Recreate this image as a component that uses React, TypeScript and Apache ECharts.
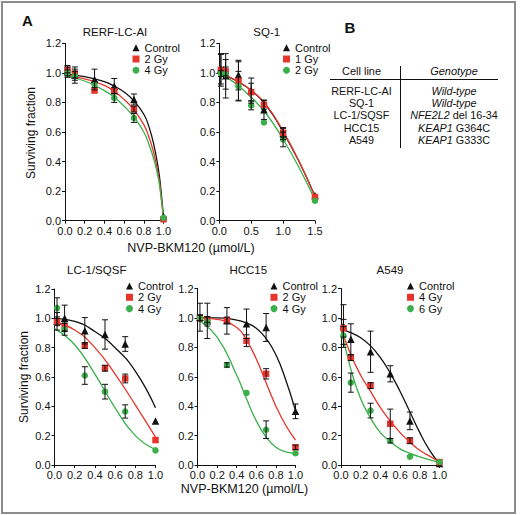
import React, { useEffect, useRef } from "react";
import * as echarts from "echarts";

const FONT = '"Liberation Sans", Arial, Helvetica, sans-serif';
const BLACK = "#111111";
const RED = "#e8352b";
const GREEN = "#3aaf4a";

// ---------- Panel A: RERF-LC-AI ----------
const RERF_DOSE = [0.025, 0.1, 0.3, 0.5, 0.7, 1.0];
const RERF_CTRL = [1.01, 0.985, 0.955, 0.91, 0.82, 0.03];
const RERF_CTRL_ERR = [0.04, 0.055, 0.07, 0.052, 0.037, 0.0];
const RERF_2GY = [1.02, 0.995, 0.88, 0.88, 0.755, 0.01];
const RERF_2GY_ERR = [0.02, 0.03, 0.0, 0.02, 0.02, 0.0];
const RERF_4GY = [1.0, 0.98, 0.92, 0.83, 0.695, 0.02];
const RERF_4GY_ERR = [0.02, 0.03, 0.02, 0.03, 0.03, 0.0];
const RERF_FIT_X = [0, 0.2, 0.4, 0.5, 0.6, 0.7, 0.8, 0.85, 0.9, 0.95, 0.975, 1.0];
const RERF_FIT_CTRL = [0.99, 0.975, 0.94, 0.91, 0.87, 0.81, 0.72, 0.64, 0.52, 0.34, 0.2, 0.02];
const RERF_FIT_2GY = [0.985, 0.96, 0.915, 0.875, 0.82, 0.75, 0.65, 0.57, 0.46, 0.3, 0.17, 0.02];
const RERF_FIT_4GY = [0.98, 0.945, 0.88, 0.835, 0.775, 0.7, 0.6, 0.52, 0.42, 0.28, 0.16, 0.02];

// ---------- SQ-1 ----------
const SQ1_DOSE = [0.025, 0.1, 0.3, 0.5, 0.7, 1.0, 1.5];
const SQ1_CTRL = [1.025, 0.98, 0.985, 0.88, 0.75, 0.59, 0.17];
const SQ1_CTRL_ERR = [0.1, 0.15, 0.1, 0.085, 0.065, 0.04, 0.0];
const SQ1_1GY = [1.02, 1.01, 0.945, 0.87, 0.785, 0.595, 0.16];
const SQ1_1GY_ERR = [0.11, 0.03, 0.13, 0.06, 0.03, 0.03, 0.0];
const SQ1_2GY = [0.995, 0.99, 0.91, 0.78, 0.665, 0.55, 0.135];
const SQ1_2GY_ERR = [0.02, 0.1, 0.1, 0.03, 0.0, 0.05, 0.0];
const SQ1_FIT_X = [0, 0.25, 0.5, 0.75, 1.0, 1.25, 1.5];
const SQ1_FIT_CTRL = [1.0, 0.95, 0.88, 0.77, 0.6, 0.4, 0.165];
const SQ1_FIT_1GY = [1.0, 0.952, 0.883, 0.775, 0.605, 0.402, 0.16];
const SQ1_FIT_2GY = [1.0, 0.93, 0.835, 0.715, 0.55, 0.36, 0.14];

// ---------- LC-1/SQSF ----------
const LC1_DOSE = [0.025, 0.1, 0.3, 0.5, 0.7, 1.0];
const LC1_CTRL = [0.98, 1.0, 0.915, 0.89, 0.825, 0.3];
const LC1_CTRL_ERR = [0.06, 0.09, 0.09, 0.1, 0.05, 0.0];
const LC1_2GY = [0.98, 0.945, 0.815, 0.66, 0.59, 0.17];
const LC1_2GY_ERR = [0.03, 0.03, 0.02, 0.02, 0.03, 0.0];
const LC1_4GY = [1.07, 0.925, 0.61, 0.5, 0.365, 0.1];
const LC1_4GY_ERR = [0.07, 0.04, 0.06, 0.05, 0.045, 0.0];
const LC1_FIT_X = [0, 0.2, 0.4, 0.6, 0.8, 1.0];
const LC1_FIT_CTRL = [1.0, 0.98, 0.91, 0.8, 0.64, 0.39];
const LC1_FIT_2GY = [0.975, 0.92, 0.8, 0.62, 0.41, 0.19];
const LC1_FIT_4GY = [0.93, 0.82, 0.62, 0.39, 0.2, 0.105];

// ---------- HCC15 ----------
const HCC_DOSE = [0.025, 0.1, 0.3, 0.5, 0.7, 1.0];
const HCC_CTRL = [1.005, 0.98, 0.98, 0.96, 0.935, 0.365];
const HCC_CTRL_ERR = [0.095, 0.12, 0.09, 0.1, 0.095, 0.05];
const HCC_2GY = [1.0, 0.99, 0.985, 0.845, 0.62, 0.12];
const HCC_2GY_ERR = [0.02, 0.02, 0.02, 0.04, 0.035, 0.015];
const HCC_4GY = [1.0, 0.975, 0.68, 0.49, 0.24, 0.08];
const HCC_4GY_ERR = [0.02, 0.03, 0.015, 0.0, 0.06, 0.0];
const HCC_FIT_X = [0, 0.2, 0.4, 0.5, 0.6, 0.7, 0.8, 0.9, 1.0];
const HCC_FIT_CTRL = [1.0, 1.0, 0.985, 0.965, 0.93, 0.86, 0.75, 0.58, 0.37];
const HCC_FIT_2GY = [1.0, 0.99, 0.935, 0.85, 0.72, 0.56, 0.4, 0.27, 0.17];
const HCC_FIT_4GY = [0.99, 0.87, 0.61, 0.45, 0.3, 0.19, 0.12, 0.09, 0.08];

// ---------- A549 ----------
const A549_DOSE = [0.025, 0.1, 0.3, 0.5, 0.7, 1.0];
const A549_CTRL = [0.945, 0.855, 0.77, 0.62, 0.3, 0.01];
const A549_CTRL_ERR = [0.145, 0.105, 0.14, 0.055, 0.06, 0.0];
const A549_4GY = [0.93, 0.73, 0.54, 0.28, 0.165, 0.02];
const A549_4GY_ERR = [0.06, 0.02, 0.02, 0.1, 0.02, 0.0];
const A549_6GY = [0.88, 0.56, 0.37, 0.165, 0.057, 0.02];
const A549_6GY_ERR = [0.06, 0.065, 0.05, 0.015, 0.0, 0.0];
const A549_FIT_X = [0, 0.1, 0.2, 0.3, 0.4, 0.5, 0.6, 0.7, 0.8, 0.9, 1.0];
const A549_FIT_CTRL = [0.92, 0.9, 0.865, 0.81, 0.73, 0.625, 0.5, 0.36, 0.22, 0.1, 0.01];
const A549_FIT_4GY = [0.93, 0.75, 0.61, 0.5, 0.39, 0.3, 0.22, 0.155, 0.1, 0.06, 0.02];
const A549_FIT_6GY = [0.93, 0.65, 0.45, 0.32, 0.22, 0.16, 0.11, 0.08, 0.055, 0.035, 0.02];

// ---------- Table B ----------
const TABLE_HEADERS = ["Cell line", "Genotype"];
const TABLE_CELL_LINES = ["RERF-LC-AI", "SQ-1", "LC-1/SQSF", "HCC15", "A549"];
const TABLE_GENE = ["", "", "NFE2L2", "KEAP1", "KEAP1"];
const TABLE_MUTATION = ["Wild-type", "Wild-type", " del 16-34", " G364C", " G333C"];

const Y_TICKS = [0, 0.2, 0.4, 0.6, 0.8, 1.0, 1.2];
const X_LABEL = "NVP-BKM120 (\u00b5mol/L)";
const Y_LABEL = "Surviving fraction";

type Group = {
  name: string;
  icon: string;
  color: string;
  size: number;
  values: number[];
  errors: number[];
  fitY: number[];
};
type Panel = {
  title: string;
  titlePos: [number, number];
  grid: { left: number; top: number; width: number; height: number };
  xMax: number;
  xInterval: number;
  dose: number[];
  fitX: number[];
  legendPos: [number, number];
  groups: Group[];
};

const mk = (name: string, icon: string, color: string, values: number[], errors: number[], fitY: number[]): Group => ({
  name,
  icon,
  color,
  size: icon === "triangle" ? 7.5 : 6.5,
  values,
  errors,
  fitY,
});

const PANELS: Panel[] = [
  {
    title: "RERF-LC-AI",
    titlePos: [115, 32],
    grid: { left: 65, top: 43.3, width: 98.5, height: 177.4 },
    xMax: 1,
    xInterval: 0.2,
    dose: RERF_DOSE,
    fitX: RERF_FIT_X,
    legendPos: [132.5, 42.2],
    groups: [
      mk("Control", "triangle", BLACK, RERF_CTRL, RERF_CTRL_ERR, RERF_FIT_CTRL),
      mk("2 Gy", "rect", RED, RERF_2GY, RERF_2GY_ERR, RERF_FIT_2GY),
      mk("4 Gy", "circle", GREEN, RERF_4GY, RERF_4GY_ERR, RERF_FIT_4GY),
    ],
  },
  {
    title: "SQ-1",
    titlePos: [266.7, 32],
    grid: { left: 219.3, top: 43.3, width: 95.7, height: 177.4 },
    xMax: 1.5,
    xInterval: 0.5,
    dose: SQ1_DOSE,
    fitX: SQ1_FIT_X,
    legendPos: [283, 42.2],
    groups: [
      mk("Control", "triangle", BLACK, SQ1_CTRL, SQ1_CTRL_ERR, SQ1_FIT_CTRL),
      mk("1 Gy", "rect", RED, SQ1_1GY, SQ1_1GY_ERR, SQ1_FIT_1GY),
      mk("2 Gy", "circle", GREEN, SQ1_2GY, SQ1_2GY_ERR, SQ1_FIT_2GY),
    ],
  },
  {
    title: "LC-1/SQSF",
    titlePos: [96.7, 270],
    grid: { left: 54.5, top: 289, width: 101, height: 176 },
    xMax: 1,
    xInterval: 0.2,
    dose: LC1_DOSE,
    fitX: LC1_FIT_X,
    legendPos: [126, 280.5],
    groups: [
      mk("Control", "triangle", BLACK, LC1_CTRL, LC1_CTRL_ERR, LC1_FIT_CTRL),
      mk("2 Gy", "rect", RED, LC1_2GY, LC1_2GY_ERR, LC1_FIT_2GY),
      mk("4 Gy", "circle", GREEN, LC1_4GY, LC1_4GY_ERR, LC1_FIT_4GY),
    ],
  },
  {
    title: "HCC15",
    titlePos: [248.3, 270],
    grid: { left: 197.5, top: 288.5, width: 98, height: 176.5 },
    xMax: 1,
    xInterval: 0.2,
    dose: HCC_DOSE,
    fitX: HCC_FIT_X,
    legendPos: [270.5, 280.5],
    groups: [
      mk("Control", "triangle", BLACK, HCC_CTRL, HCC_CTRL_ERR, HCC_FIT_CTRL),
      mk("2 Gy", "rect", RED, HCC_2GY, HCC_2GY_ERR, HCC_FIT_2GY),
      mk("4 Gy", "circle", GREEN, HCC_4GY, HCC_4GY_ERR, HCC_FIT_4GY),
    ],
  },
  {
    title: "A549",
    titlePos: [390, 270],
    grid: { left: 341, top: 288.5, width: 98.5, height: 176.5 },
    xMax: 1,
    xInterval: 0.2,
    dose: A549_DOSE,
    fitX: A549_FIT_X,
    legendPos: [407, 280.5],
    groups: [
      mk("Control", "triangle", BLACK, A549_CTRL, A549_CTRL_ERR, A549_FIT_CTRL),
      mk("4 Gy", "rect", RED, A549_4GY, A549_4GY_ERR, A549_FIT_4GY),
      mk("6 Gy", "circle", GREEN, A549_6GY, A549_6GY_ERR, A549_FIT_6GY),
    ],
  },
];

function textEl(text: string, x: number, y: number, size: number, extra: any = {}) {
  return {
    type: "text",
    x,
    y,
    rotation: extra.rotation || 0,
    silent: true,
    style: {
      text,
      fill: BLACK,
      fontSize: size,
      fontFamily: FONT,
      fontWeight: extra.fontWeight || "normal",
      fontStyle: extra.fontStyle || "normal",
      align: extra.align || "center",
      verticalAlign: "middle",
      textAlign: extra.align || "center",
      textVerticalAlign: "middle",
      rich: extra.rich,
    },
  };
}

function errorRender(params: any, api: any) {
  const x = api.value(0);
  const lo = api.coord([x, api.value(1)]);
  const hi = api.coord([x, api.value(2)]);
  const cap = 3;
  const st = { stroke: BLACK, lineWidth: 1 };
  return {
    type: "group",
    children: [
      { type: "line", shape: { x1: lo[0], y1: lo[1], x2: hi[0], y2: hi[1] }, style: st },
      { type: "line", shape: { x1: lo[0] - cap, y1: lo[1], x2: lo[0] + cap, y2: lo[1] }, style: st },
      { type: "line", shape: { x1: hi[0] - cap, y1: hi[1], x2: hi[0] + cap, y2: hi[1] }, style: st },
    ],
  };
}

function buildOption() {
  const grid: any[] = [];
  const xAxis: any[] = [];
  const yAxis: any[] = [];
  const series: any[] = [];
  const legend: any[] = [];
  const graphic: any[] = [];

  const axisLineCommon = {
    axisLine: { show: true, onZero: false, lineStyle: { color: BLACK, width: 1 } },
    axisTick: { show: true, length: 3, lineStyle: { color: BLACK, width: 1 } },
    splitLine: { show: false },
  };
  const labelCommon = {
    fontSize: 11,
    lineHeight: 10,
    fontFamily: FONT,
    color: BLACK,
    formatter: (v: number) => v.toFixed(1),
  };

  PANELS.forEach((p, i) => {
    grid.push({ ...p.grid, containLabel: false });
    xAxis.push({
      type: "value",
      gridIndex: i,
      min: 0,
      max: p.xMax,
      interval: p.xInterval,
      ...axisLineCommon,
      axisLabel: { ...labelCommon, margin: 5 },
    });
    yAxis.push({
      type: "value",
      gridIndex: i,
      min: Y_TICKS[0],
      max: Y_TICKS[Y_TICKS.length - 1],
      interval: 0.2,
      ...axisLineCommon,
      axisLabel: { ...labelCommon, margin: 4 },
    });
    p.groups.forEach((g) => {
      series.push({
        type: "line",
        name: g.name + " fit",
        xAxisIndex: i,
        yAxisIndex: i,
        data: p.fitX.map((x, k) => [x, g.fitY[k]]),
        smooth: 0.5,
        symbol: "none",
        showSymbol: false,
        lineStyle: { color: g.color, width: 1.3 },
        silent: true,
        z: 2,
      });
    });
    p.groups.forEach((g) => {
      series.push({
        type: "scatter",
        name: g.name,
        xAxisIndex: i,
        yAxisIndex: i,
        data: p.dose.map((x, k) => [x, g.values[k]]),
        symbol: g.icon,
        symbolSize: g.size,
        itemStyle: { color: g.color, opacity: 1 },
        silent: true,
        z: 3,
      });
    });
    p.groups.forEach((g) => {
      const d = p.dose
        .map((x, k) => [x, g.values[k] - g.errors[k], g.values[k] + g.errors[k], g.errors[k]])
        .filter((r) => r[3] >= 0.012);
      series.push({
        type: "custom",
        name: g.name + " err",
        xAxisIndex: i,
        yAxisIndex: i,
        data: d,
        encode: { x: 0, y: [1, 2] },
        renderItem: errorRender,
        silent: true,
        z: 4,
      });
    });
    legend.push({
      orient: "vertical",
      left: p.legendPos[0],
      top: p.legendPos[1],
      padding: 0,
      itemWidth: 7,
      itemHeight: 7,
      itemGap: 0.3,
      selectedMode: false,
      textStyle: { fontSize: 11, fontFamily: FONT, color: BLACK, lineHeight: 9 },
      data: p.groups.map((g) => ({ name: g.name, icon: g.icon, itemStyle: { color: g.color } })),
    });
    graphic.push(textEl(p.title, p.titlePos[0], p.titlePos[1], 11.5));
  });

  // frame
  graphic.unshift({
    type: "rect",
    silent: true,
    shape: { x: 2, y: 2, width: 513, height: 511 },
    style: { fill: "none", stroke: "#8c8c8c", lineWidth: 2 },
    z: -1,
  });

  // panel letters
  graphic.push(textEl("A", 27.5, 20.5, 15, { fontWeight: "bold" }));
  graphic.push(textEl("B", 350, 27.5, 15, { fontWeight: "bold" }));

  // axis names
  graphic.push(textEl(Y_LABEL, 31, 133, 12, { rotation: Math.PI / 2 }));
  graphic.push(textEl(Y_LABEL, 24, 377, 12, { rotation: Math.PI / 2 }));
  graphic.push(textEl(X_LABEL, 191, 247.5, 12.5));
  graphic.push(textEl(X_LABEL, 244.5, 489, 12.5));

  // table
  const colA = 361.5;
  const colB = 454;
  graphic.push(textEl(TABLE_HEADERS[0], colA, 71, 11));
  graphic.push(textEl(TABLE_HEADERS[1], colB, 71, 11, { fontStyle: "italic" }));
  graphic.push({
    type: "line",
    silent: true,
    shape: { x1: 330, y1: 79.5, x2: 498, y2: 79.5 },
    style: { stroke: BLACK, lineWidth: 1 },
  });
  graphic.push({
    type: "line",
    silent: true,
    shape: { x1: 400.5, y1: 66, x2: 400.5, y2: 148 },
    style: { stroke: BLACK, lineWidth: 1 },
  });
  TABLE_CELL_LINES.forEach((c, k) => {
    const y = 90.7 + k * 12.3;
    graphic.push(textEl(c, colA, y, 10.8));
    if (TABLE_GENE[k]) {
      graphic.push(
        textEl("{i|" + TABLE_GENE[k] + "}" + TABLE_MUTATION[k], colB, y, 10.8, {
          rich: { i: { fontStyle: "italic", fontSize: 10.8, fontFamily: FONT, fill: BLACK, color: BLACK } },
        })
      );
    } else {
      graphic.push(textEl(TABLE_MUTATION[k], colB, y, 10.8, { fontStyle: "italic" }));
    }
  });

  return {
    animation: false,
    backgroundColor: "#ffffff",
    textStyle: { fontFamily: FONT },
    grid,
    xAxis,
    yAxis,
    series,
    legend,
    graphic: { elements: graphic },
  };
}

export default function App() {
  const ref = useRef<HTMLDivElement>(null);
  useEffect(() => {
    document.body.style.margin = "0";
    const chart = echarts.init(ref.current!, null, { renderer: "svg" });
    chart.setOption(buildOption() as any);
    return () => chart.dispose();
  }, []);
  return <div ref={ref} style={{ width: 520, height: 515 }} />;
}
